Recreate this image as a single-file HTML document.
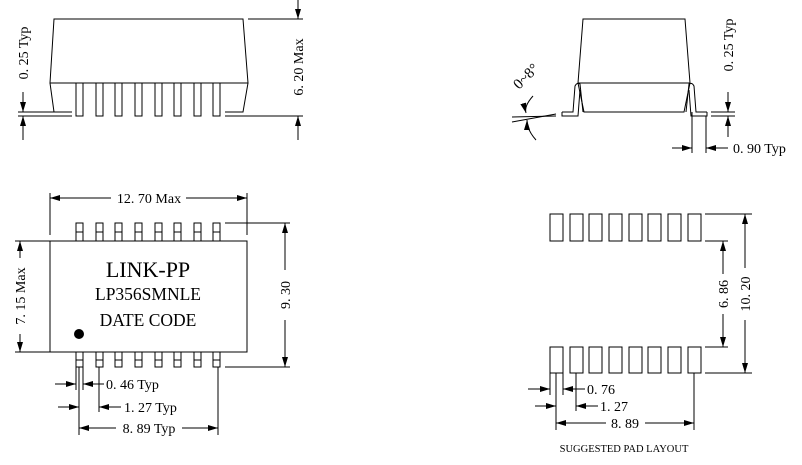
<!DOCTYPE html>
<html><head><meta charset="utf-8"><style>
body{margin:0;background:#fff}
svg{display:block}
text{font-family:"Liberation Serif",serif;fill:#000}
</style></head><body>
<svg width="802" height="465" viewBox="0 0 802 465" xmlns="http://www.w3.org/2000/svg">
<defs>
<marker id="a" viewBox="0 0 10 6" refX="10" refY="3" markerWidth="10" markerHeight="6" markerUnits="userSpaceOnUse" orient="auto"><path d="M0,0 L10,3 L0,6 z" fill="#000"/></marker>
</defs>
<g stroke="#000" stroke-width="1" fill="none">
<polygon points="54,19 243,19 248,83 50,83"/>
<polyline points="50,83 54,112 72,112"/>
<polyline points="248,83 243,112 225,112"/>
<g fill="#fff">
<rect x="76" y="83" width="7" height="33"/><rect x="96" y="83" width="7" height="33"/><rect x="115" y="83" width="7" height="33"/><rect x="135" y="83" width="7" height="33"/><rect x="155" y="83" width="7" height="33"/><rect x="174" y="83" width="7" height="33"/><rect x="194" y="83" width="7" height="33"/><rect x="213" y="83" width="7" height="33"/>
</g>
<line x1="18" y1="112" x2="72" y2="112"/><line x1="18" y1="116" x2="72" y2="116"/>
<line x1="225" y1="116" x2="303" y2="116"/><line x1="248" y1="19" x2="303" y2="19"/>
<line x1="298" y1="0" x2="298" y2="19" marker-end="url(#a)"/>
<line x1="298" y1="140" x2="298" y2="116" marker-end="url(#a)"/>
<line x1="23" y1="92" x2="23" y2="112" marker-end="url(#a)"/>
<line x1="23" y1="140" x2="23" y2="116" marker-end="url(#a)"/>
<polygon points="583,19 685,19 690,83 578,83"/>
<polyline points="578,83 584,112 684,112 690,83"/>
<path d="M562,112 L573,112 L575,86 Q577,82 580,84 L583,112"/>
<path d="M562,112 L562,116 L578,116 L580,90"/>
<path d="M707,112 L696,112 L694,86 Q692,82 689,84 L686,112"/>
<path d="M707,112 L707,116 L691,116 L689,90"/>
<line x1="692" y1="112" x2="692" y2="153"/><line x1="706" y1="116" x2="706" y2="153"/>
<line x1="672" y1="148" x2="692" y2="148" marker-end="url(#a)"/>
<line x1="728" y1="148" x2="706" y2="148" marker-end="url(#a)"/>
<line x1="711" y1="112" x2="735" y2="112"/><line x1="711" y1="116" x2="735" y2="116"/>
<line x1="728" y1="92" x2="728" y2="112" marker-end="url(#a)"/>
<line x1="728" y1="137" x2="728" y2="116" marker-end="url(#a)"/>
<line x1="512" y1="117" x2="556" y2="116"/>
<line x1="512" y1="122" x2="556" y2="114"/>
<path d="M533,96 Q524,106 526,113" marker-end="url(#a)"/>
<path d="M536,140 Q527,130 527,120" marker-end="url(#a)"/>
<rect x="50" y="241" width="197" height="111"/>
<g>
<rect x="76" y="223" width="7" height="18"/><rect x="96" y="223" width="7" height="18"/><rect x="115" y="223" width="7" height="18"/><rect x="135" y="223" width="7" height="18"/><rect x="155" y="223" width="7" height="18"/><rect x="174" y="223" width="7" height="18"/><rect x="194" y="223" width="7" height="18"/><rect x="213" y="223" width="7" height="18"/>
<rect x="76" y="352" width="7" height="15"/><rect x="96" y="352" width="7" height="15"/><rect x="115" y="352" width="7" height="15"/><rect x="135" y="352" width="7" height="15"/><rect x="155" y="352" width="7" height="15"/><rect x="174" y="352" width="7" height="15"/><rect x="194" y="352" width="7" height="15"/><rect x="213" y="352" width="7" height="15"/>
</g>
<path d="M76,232h7M96,232h7M115,232h7M135,232h7M155,232h7M174,232h7M194,232h7M213,232h7"/>
<path d="M76,360h7M96,360h7M115,360h7M135,360h7M155,360h7M174,360h7M194,360h7M213,360h7"/>
<line x1="50" y1="193" x2="50" y2="235"/><line x1="247" y1="193" x2="247" y2="235"/>
<line x1="111" y1="198" x2="50" y2="198" marker-end="url(#a)"/>
<line x1="186" y1="198" x2="247" y2="198" marker-end="url(#a)"/>
<line x1="225" y1="223" x2="290" y2="223"/><line x1="225" y1="367" x2="290" y2="367"/>
<line x1="285" y1="270" x2="285" y2="223" marker-end="url(#a)"/>
<line x1="285" y1="320" x2="285" y2="367" marker-end="url(#a)"/>
<line x1="15" y1="241" x2="50" y2="241"/><line x1="15" y1="352" x2="50" y2="352"/>
<line x1="20" y1="258" x2="20" y2="241" marker-end="url(#a)"/>
<line x1="20" y1="334" x2="20" y2="352" marker-end="url(#a)"/>
<line x1="76" y1="367" x2="76" y2="390"/><line x1="83" y1="367" x2="83" y2="390"/>
<line x1="79" y1="367" x2="79" y2="435"/><line x1="99" y1="367" x2="99" y2="412"/><line x1="218" y1="367" x2="218" y2="435"/>
<line x1="55" y1="384" x2="76" y2="384" marker-end="url(#a)"/>
<line x1="104" y1="384" x2="83" y2="384" marker-end="url(#a)"/>
<line x1="58" y1="407" x2="79" y2="407" marker-end="url(#a)"/>
<line x1="121" y1="407" x2="99" y2="407" marker-end="url(#a)"/>
<line x1="116" y1="428" x2="79" y2="428" marker-end="url(#a)"/>
<line x1="182" y1="428" x2="218" y2="428" marker-end="url(#a)"/>
<g>
<rect x="550" y="214" width="13" height="27"/><rect x="570" y="214" width="13" height="27"/><rect x="589" y="214" width="13" height="27"/><rect x="609" y="214" width="13" height="27"/><rect x="629" y="214" width="13" height="27"/><rect x="648" y="214" width="13" height="27"/><rect x="668" y="214" width="13" height="27"/><rect x="688" y="214" width="13" height="27"/>
<rect x="550" y="347" width="13" height="26"/><rect x="570" y="347" width="13" height="26"/><rect x="589" y="347" width="13" height="26"/><rect x="609" y="347" width="13" height="26"/><rect x="629" y="347" width="13" height="26"/><rect x="648" y="347" width="13" height="26"/><rect x="668" y="347" width="13" height="26"/><rect x="688" y="347" width="13" height="26"/>
</g>
<line x1="705" y1="214" x2="752" y2="214"/><line x1="705" y1="241" x2="728" y2="241"/>
<line x1="705" y1="347" x2="728" y2="347"/><line x1="705" y1="373" x2="752" y2="373"/>
<line x1="745" y1="268" x2="745" y2="214" marker-end="url(#a)"/>
<line x1="745" y1="320" x2="745" y2="373" marker-end="url(#a)"/>
<line x1="723" y1="274" x2="723" y2="241" marker-end="url(#a)"/>
<line x1="723" y1="314" x2="723" y2="347" marker-end="url(#a)"/>
<line x1="550" y1="373" x2="550" y2="395"/><line x1="563" y1="373" x2="563" y2="395"/>
<line x1="556" y1="373" x2="556" y2="430"/><line x1="576" y1="373" x2="576" y2="411"/><line x1="694" y1="373" x2="694" y2="430"/>
<line x1="528" y1="389" x2="550" y2="389" marker-end="url(#a)"/>
<line x1="585" y1="389" x2="563" y2="389" marker-end="url(#a)"/>
<line x1="535" y1="406" x2="556" y2="406" marker-end="url(#a)"/>
<line x1="598" y1="406" x2="576" y2="406" marker-end="url(#a)"/>
<line x1="606" y1="423" x2="556" y2="423" marker-end="url(#a)"/>
<line x1="645" y1="423" x2="694" y2="423" marker-end="url(#a)"/>
</g>
<circle cx="79" cy="334" r="5" fill="#000"/>
<g font-size="14">
<text x="0" y="0" transform="translate(28,53) rotate(-90)" text-anchor="middle">0. 25 Typ</text>
<text x="0" y="0" transform="translate(303,67) rotate(-90)" text-anchor="middle">6. 20 Max</text>
<text x="0" y="0" transform="translate(733,45) rotate(-90)" text-anchor="middle">0. 25 Typ</text>
<text x="733" y="153">0. 90 Typ</text>
<text x="0" y="0" transform="translate(519,90) rotate(-45)" font-size="15">0~8°</text>
<text x="149" y="203" text-anchor="middle">12. 70 Max</text>
<text x="0" y="0" transform="translate(290,295) rotate(-90)" text-anchor="middle">9. 30</text>
<text x="0" y="0" transform="translate(25,296) rotate(-90)" text-anchor="middle">7. 15 Max</text>
<text x="106" y="389">0. 46 Typ</text>
<text x="124" y="412">1. 27 Typ</text>
<text x="149" y="433" text-anchor="middle">8. 89 Typ</text>
<text x="0" y="0" transform="translate(750,294) rotate(-90)" text-anchor="middle">10. 20</text>
<text x="0" y="0" transform="translate(728,294) rotate(-90)" text-anchor="middle">6. 86</text>
<text x="587" y="394">0. 76</text>
<text x="600" y="411">1. 27</text>
<text x="625" y="428" text-anchor="middle">8. 89</text>
</g>
<text x="148" y="277" font-size="22" text-anchor="middle">LINK-PP</text>
<text x="148" y="300" font-size="17.5" text-anchor="middle">LP356SMNLE</text>
<text x="148" y="326" font-size="17.5" text-anchor="middle">DATE CODE</text>
<text x="624" y="452" font-size="10.5" text-anchor="middle">SUGGESTED PAD LAYOUT</text>
</svg>
</body></html>
